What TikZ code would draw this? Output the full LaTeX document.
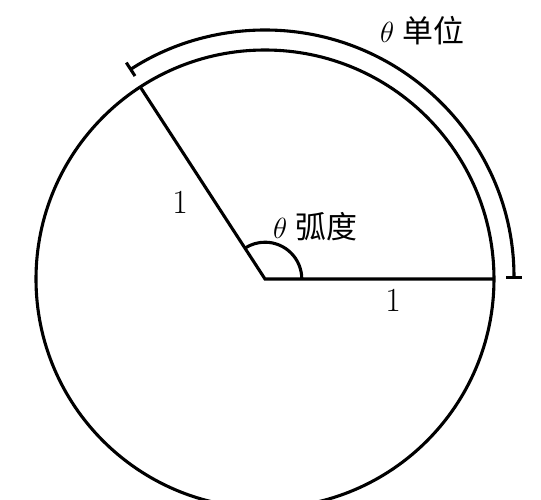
\documentclass[tikz,border=0pt]{standalone}
\usepackage{fontspec}
\newfontfamily\cjk{Noto Sans CJK SC}
\usetikzlibrary{arrows.meta}

\begin{document}
\begin{tikzpicture}[
thick line/.style={line width=2.2pt},
big text/.style={font=\fontsize{22}{26}\selectfont,inner sep=0,outer sep=0},
num text/.style={font=\fontsize{24}{28}\selectfont,inner sep=0,outer sep=0}]
\useasboundingbox (-6.625,-5.525) rectangle (6.9,6.975);
\coordinate (o) at (0,0);
\coordinate (a) at (123:5.725);
\coordinate (b) at (0:5.725);
\draw[thick line] (o) circle (5.725);
%==================
\draw[thick line] (a) -- (o) -- (b);
\draw[thick line] (0.92,0) arc (0:123:0.92);
%==================
\coordinate (c) at (0:6.225);
\draw[thick line,{Bar[width=4mm]}-{Bar[width=4mm]}] (c) arc (0:123:6.225);
% ===================
\node[big text] (unit) at (3.925,6.2) {$\theta$\hspace{0.2cm}{\cjk 单位}};
\node[big text] (rad) at (1.25,1.3) {$\theta$\hspace{0.2cm}{\cjk 弧度}};
\node[num text] (ra) at (-2.125,1.925) {1};
\node[num text] (rb) at (3.2,-0.525) {1};
\end{tikzpicture}
\end{document}
